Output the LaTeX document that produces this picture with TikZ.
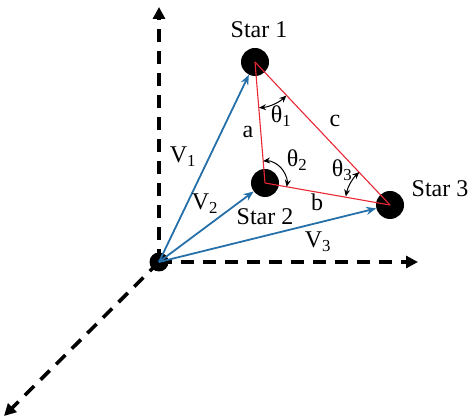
\documentclass[tikz,border=0pt]{standalone}
\usepackage{fontspec}
\setmainfont{Liberation Serif}
\usetikzlibrary{arrows.meta}
\definecolor{vblue}{RGB}{38,112,170}
\definecolor{ered}{RGB}{232,40,52}
\begin{document}
\begin{tikzpicture}[x=1pt,y=1pt,
  star/.style={circle,fill=black,inner sep=0pt,minimum size=28pt},
  axis/.style={line width=3.6pt,dash pattern=on 13pt off 9pt,-{Triangle[length=12pt,width=12pt]}},
  vec/.style={vblue,line width=1.8pt,-{Stealth[length=10pt,width=8pt]}},
  edge/.style={ered,line width=1.1pt},
  ang/.style={black,line width=1pt,{Stealth[length=7pt,width=6pt]}-{Stealth[length=7pt,width=6pt]}},
  lbl/.style={font=\fontsize{24}{26}\selectfont,inner sep=0pt,anchor=base}]
\useasboundingbox (0,0) rectangle (474,420);
% axes
\node[circle,fill=black,inner sep=0pt,minimum size=19pt] (O) at (159,158) {};
\coordinate (ay) at (159,413);
\coordinate (ax) at (418,158);
\coordinate (az) at (4,4);
\draw[axis] (O.center) -- (ay);
\draw[axis] (O.center) -- (ax);
\draw[axis] (O.center) -- (az);
% stars
\node[star] (S1) at (255,358) {};
\node[star] (S2) at (265,237) {};
\node[star] (S3) at (390,215) {};
\node[lbl] (L1) at (259,382) {Star 1};
\node[lbl] (L2) at (265,195) {Star 2};
\node[lbl] (L3) at (440,223) {Star 3};
% triangle edges
\draw[edge] (S1.center) -- (S2.center);
\draw[edge] (S2.center) -- (S3.center);
\draw[edge] (S1.center) -- (S3.center);
% vectors
\draw[vec] (O.center) -- (S1);
\draw[vec] (O.center) -- (S2);
\draw[vec] (O.center) -- (S3);
\node[lbl] (V1) at (183,257) {V\textsubscript{1}};
\node[lbl] (V2) at (205,210) {V\textsubscript{2}};
\node[lbl] (V3) at (318,172) {V\textsubscript{3}};
\node[lbl] (ea) at (248,282) {a};
\node[lbl] (eb) at (317,209) {b};
\node[lbl] (ec) at (335,293) {c};
\node[lbl] (t1) at (281,297) {θ\textsubscript{1}};
\node[lbl] (t2) at (297,253) {θ\textsubscript{2}};
\node[lbl] (t3) at (342,243) {θ\textsubscript{3}};
% angle arcs
\draw[ang] ([shift={(-85:46)}]S1.center) arc[start angle=-85,end angle=-47,radius=46];
\draw[ang] ([shift={(95:22)}]S2.center) arc[start angle=95,end angle=-10,radius=22];
\draw[ang] ([shift={(169:45)}]S3.center) arc[start angle=169,end angle=133,radius=45];
\end{tikzpicture}
\end{document}
